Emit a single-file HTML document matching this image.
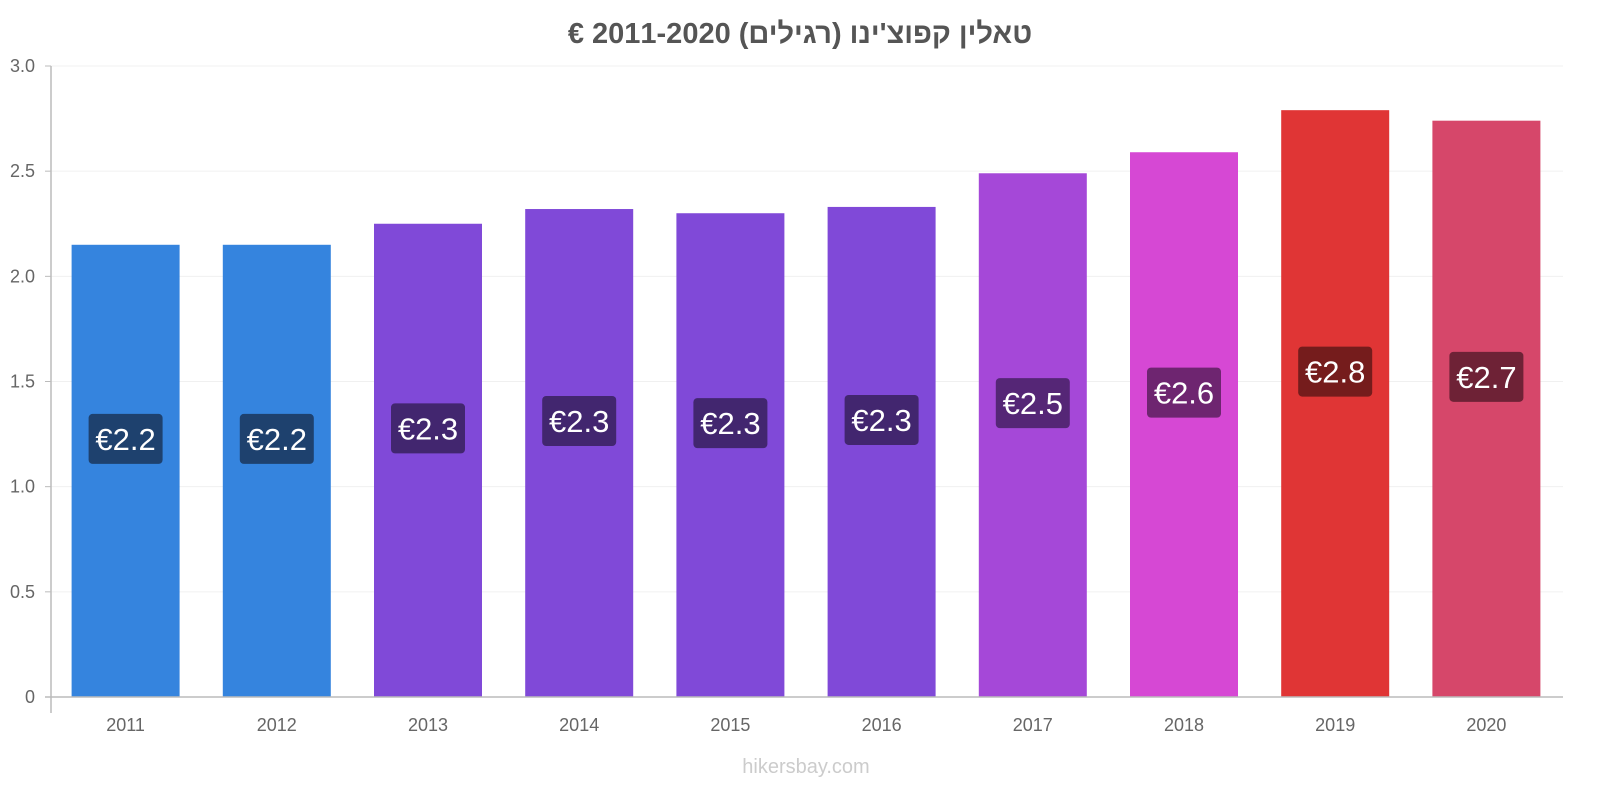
<!DOCTYPE html>
<html><head><meta charset="utf-8"><style>
html,body{margin:0;padding:0;background:#fff}
svg{display:block;font-family:"Liberation Sans","DejaVu Sans",sans-serif}
</style></head><body>
<svg id="chart" width="1600" height="800">
<text x="800" y="43" text-anchor="middle" font-size="29" font-weight="bold" fill="#555" direction="rtl">טאלין קפוצ'ינו (רגילים) 2011-2020 €</text>
<g id="grid"></g><g id="bars"></g><g id="labels"></g><g id="axes"></g>
<text x="806" y="773" text-anchor="middle" font-size="20" fill="#ccc">hikersbay.com</text>
</svg>
<script>
const years=["2011","2012","2013","2014","2015","2016","2017","2018","2019","2020"];
const values=[2.15,2.15,2.25,2.32,2.30,2.33,2.49,2.59,2.79,2.74];
const valueLabels=["€2.2","€2.2","€2.3","€2.3","€2.3","€2.3","€2.5","€2.6","€2.8","€2.7"];
const yTicks=[0,0.5,1,1.5,2,2.5,3];
const yTickLabels=["0","0.5","1.0","1.5","2.0","2.5","3.0"];
const barColors=["#3584de","#3584de","#8049d8","#8049d8","#8049d8","#8049d8","#a548d8","#d648d4","#e03535","#d6476a"];
const labelColors=["#1e416e","#1e416e","#42266f","#42266f","#42266f","#42266f","#552676","#6e2570","#751c1c","#6e2236"];
const NS="http://www.w3.org/2000/svg";
const L=51,R=1563,T=66,B=697,yMax=3;
const y=v=>B-(v/yMax)*(B-T);
const step=(R-L)/years.length;
const xc=i=>L+step*(i+0.5)-1;
function mk(t,a,p){const e=document.createElementNS(NS,t);for(const k in a)e.setAttribute(k,a[k]);p.appendChild(e);return e;}
const g=document.getElementById('grid'),bg=document.getElementById('bars'),lg=document.getElementById('labels'),ax=document.getElementById('axes');
yTicks.forEach((t,i)=>{
 if(t>0){const l=mk('line',{x1:L,x2:R,y1:y(t),y2:y(t),stroke:'#f0f0f0'},g);
 
 }
 const tx=mk('text',{x:35,y:y(t)+6,'text-anchor':'end','font-size':18,fill:'#666'},ax);
 tx.textContent=yTickLabels[i];
 
 
 mk('line',{x1:L-6,x2:L,y1:y(t),y2:y(t),stroke:'#bbb'},ax);
});
const bw=108;
years.forEach((yr,i)=>{
 const c=xc(i),v=values[i];
 const r=mk('rect',{x:c-bw/2,y:y(v),width:bw,height:B-y(v),fill:barColors[i]},bg);
 
 
 const cy=y(v/2)-32;
 const box=mk('rect',{x:c-37,y:cy-25,width:74,height:50,rx:4,fill:labelColors[i]},lg);
 
 
 const t=mk('text',{x:c,y:cy+11,'text-anchor':'middle','font-size':31,fill:'#fff'},lg);
 t.textContent=valueLabels[i];
 
 
 const xt=mk('text',{x:c,y:731,'text-anchor':'middle','font-size':18,fill:'#666'},ax);
 xt.textContent=yr;
 
 
});
const ya=mk('line',{x1:L,x2:L,y1:T,y2:713,stroke:'#bbb','stroke-width':1.5},ax);


const xa=mk('line',{x1:L-6,x2:R,y1:B,y2:B,stroke:'#bbb','stroke-width':1.5},ax);


</script>
</body></html>
